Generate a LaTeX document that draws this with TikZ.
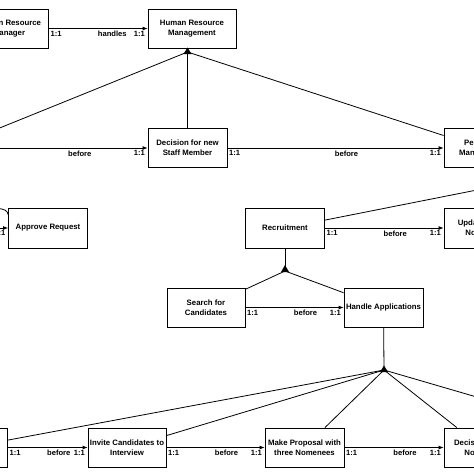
\documentclass[tikz,border=0pt]{standalone}
\usepackage{fontspec}
\setmainfont{Liberation Sans}
\usetikzlibrary{arrows.meta}
\tikzset{
  box/.style={draw, line width=0.8pt, minimum width=79pt, minimum height=39pt,
    inner sep=0pt, align=center, font=\fontsize{7.8}{10}\selectfont\bfseries},
  btext/.style={inner sep=0pt, align=center, font=\fontsize{7.8}{10}\selectfont\bfseries},
  conn/.style={line width=0.8pt},
  arr/.style={conn, -{Latex[length=5pt,width=4pt]}},
  lbl/.style={font=\fontsize{7.6}{9}\selectfont\bfseries, inner sep=0pt},
  lbll/.style={lbl, anchor=north west, xshift=1.5pt, yshift=-2.5pt},
  lblr/.style={lbl, anchor=north east, xshift=-2.5pt, yshift=-2.5pt},
  lblm/.style={lbl, anchor=north, yshift=-2.5pt}
}
\begin{document}
\begin{tikzpicture}[x=1pt,y=-1pt]
\useasboundingbox (0,0) rectangle (474,474);
\clip (0,0) rectangle (474,474);
\fill[white] (0,0) rectangle (474,474);

% boxes
\node[box] (mgr) at (9,28.5) {Human Resource\\Manager};
\node[box, minimum width=88pt] (hrm) at (192,28.5) {Human Resource\\Management};
\node[box] (offL) at (-50,148) {};
\node[box] (dec) at (187.5,148) {Decision for new\\Staff Member};
\node[box, minimum width=76pt] (pm) at (482,148) {};
\node[btext] (pmt) at (483,148) {Personnel\\Management};
\node[box, minimum height=40pt] (appr) at (48,228) {Approve Request};
\node[box, minimum height=40pt] (rec) at (285,228) {Recruitment};
\node[box, minimum width=76pt, minimum height=40pt] (upd) at (482,228) {};
\node[btext] (updt) at (491,228) {Update Personnel\\Nomenee List};
\node[box, minimum width=78pt] (search) at (206,307.5) {Search for\\Candidates};
\node[box] (handle) at (383.5,307.5) {Handle Applications};
\node[box] (offBL) at (-32,447.5) {};
\node[box, minimum width=78pt] (invite) at (127,447.5) {Invite Candidates to\\Interview};
\node[box] (make) at (304.5,447.5) {Make Proposal with\\three Nomenees};
\node[box, minimum width=76pt] (decn) at (482,447.5) {Decision about\\Nomenee};
\node[box] (offBR) at (650,447.5) {};

% sequence connectors
\draw[arr] (mgr) -- (hrm);
\node[lbll] at (mgr.east) {1:1};
\node[lblr] at (hrm.west) {1:1};
\path (mgr.east) -- (hrm.west) node[lblm, midway, xshift=14pt] {handles};

\draw[arr] (offL) -- (dec);
\node[lblr] at (dec.west) {1:1};
\path (offL.east) -- (dec.west) node[lblm, midway, xshift=11pt] {before};

\draw[arr] (dec) -- (pm);
\node[lbll] at (dec.east) {1:1};
\node[lblr] at (pm.west) {1:1};
\path (dec.east) -- (pm.west) node[lblm, midway, xshift=11pt] {before};

\coordinate (aL) at (-30,228);
\draw[arr] (aL) -- (appr);
\node[lblr] at (appr.west) {1:1};
\coordinate (aC) at (-3,208.5);
\draw[conn] (aC) .. controls (4,208.5) and (8,211) .. ([yshift=-7pt]appr.north west);

\draw[arr] (rec) -- (upd);
\node[lbll] at (rec.east) {1:1};
\node[lblr] at (upd.west) {1:1};
\path (rec.east) -- (upd.west) node[lblm, midway, xshift=11pt] {before};

\draw[arr] (search) -- (handle);
\node[lbll] at (search.east) {1:1};
\node[lblr] at (handle.west) {1:1};
\path (search.east) -- (handle.west) node[lblm, midway, xshift=11pt] {before};

\draw[arr] (offBL) -- (invite);
\node[lbll] at (offBL.east) {1:1};
\node[lblr] at (invite.west) {1:1};
\path (offBL.east) -- (invite.west) node[lblm, midway, xshift=11pt] {before};

\draw[arr] (invite) -- (make);
\node[lbll] at (invite.east) {1:1};
\node[lblr] at (make.west) {1:1};
\path (invite.east) -- (make.west) node[lblm, midway, xshift=11pt] {before};

\draw[arr] (make) -- (decn);
\node[lbll] at (make.east) {1:1};
\node[lblr] at (decn.west) {1:1};
\path (make.east) -- (decn.west) node[lblm, midway, xshift=11pt] {before};

% aggregation: Human Resource Management
\coordinate (t1) at (187.5,52);
\fill (187.5,47.5) -- (191.5,54) -- (183.5,54) -- cycle;
\draw[conn] (t1) -- (offL);
\draw[conn] (t1) -- (dec);
\draw[conn] (t1) -- (pm);

% aggregation: Personnel Management
\coordinate (t2) at (482,189);
\fill (482,185) -- (486,191) -- (478,191) -- cycle;
\draw[conn] (pm) -- (t2);
\draw[conn] (t2) -- (rec);
\draw[conn] (t2) -- (upd);

% aggregation: Recruitment
\coordinate (t3) at (285,271);
\fill (285,265) -- (289,272) -- (281,272) -- cycle;
\draw[conn] (rec) -- (t3);
\draw[conn] (t3) -- (search);
\draw[conn] (t3) -- (handle);

% aggregation: Handle Applications
\coordinate (t4) at (384,370);
\fill (384,365.5) -- (388,372) -- (380,372) -- cycle;
\draw[conn] (handle) -- (t4);
\draw[conn] (t4) -- (offBL);
\draw[conn] (t4) -- (invite);
\draw[conn] (t4) -- (make);
\draw[conn] (t4) -- (decn);
\draw[conn] (t4) -- (offBR);
\end{tikzpicture}
\end{document}
